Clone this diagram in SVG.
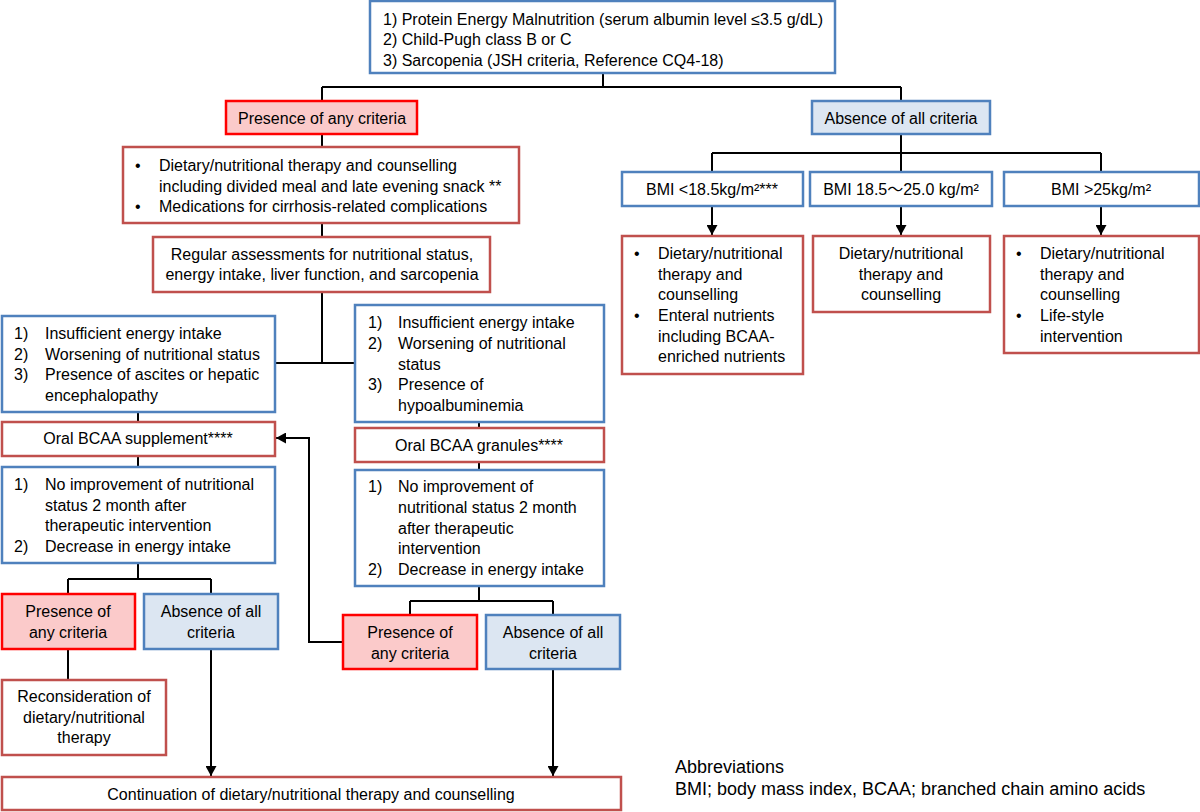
<svg xmlns="http://www.w3.org/2000/svg" width="1200" height="812" viewBox="0 0 1200 812">
<defs>
<style>
.t{font-family:"Liberation Sans","Noto Sans CJK JP",sans-serif;font-size:16px;fill:#000}
.c{text-anchor:middle}
.bl{fill:#fff;stroke:#4f81bd;stroke-width:2.5}
.bf{fill:#dce6f2;stroke:#4f81bd;stroke-width:2.5}
.rd{fill:#fff;stroke:#c0504d;stroke-width:2.5}
.pk{fill:#fbcaca;stroke:#ff0000;stroke-width:2.5}
.ln{fill:none;stroke:#000;stroke-width:2}
.ab{font-family:"Liberation Sans",Arial,sans-serif;font-size:18px;fill:#000}
</style>
<marker id="ar" markerUnits="userSpaceOnUse" markerWidth="10" markerHeight="11" refX="10" refY="5.5" orient="auto" viewBox="0 0 10 11">
<path d="M0,0 L10,5.5 L0,11 z" fill="#000"/>
</marker>
</defs>
<rect width="1200" height="812" fill="#fff"/>

<g id="connectors">
<path class="ln" d="M603,73 V87 M322,87 H901 M322,87 V101 M901,87 V101"/>
<path class="ln" d="M322,134 V147 M322,223 V237 M322,292 V363 M275,363 H355"/>
<path class="ln" d="M901,134 V172 M712,153 H1101 M712,153 V172 M1101,153 V172"/>
<path class="ln" d="M712,206 V235" marker-end="url(#ar)"/>
<path class="ln" d="M901,206 V235" marker-end="url(#ar)"/>
<path class="ln" d="M1101,206 V235" marker-end="url(#ar)"/>
<path class="ln" d="M138,412 V422 M479,422 V428 M138,456 V467 M479,462 V470"/>
<path class="ln" d="M138,563 V579 M68,579 H211 M68,579 V594 M211,579 V594"/>
<path class="ln" d="M68,649 V680"/>
<path class="ln" d="M211,649 V776" marker-end="url(#ar)"/>
<path class="ln" d="M479,586 V601 M410,601 H553 M410,601 V615 M553,601 V615"/>
<path class="ln" d="M553,669 V776" marker-end="url(#ar)"/>
<path class="ln" d="M343,642 H309 V438 H276" marker-end="url(#ar)"/>
</g>

<g id="n-criteria">
<rect class="bl" x="370" y="1" width="465" height="72"/>
<text class="t" x="383" y="25">1) Protein Energy Malnutrition (serum albumin level ≤3.5 g/dL)</text>
<text class="t" x="383" y="45">2) Child-Pugh class B or C</text>
<text class="t" x="383" y="66">3) Sarcopenia (JSH criteria, Reference CQ4-18)</text>
</g>

<g id="n-presence1">
<rect class="pk" x="226" y="101" width="191" height="33"/>
<text class="t c" x="322" y="123.5">Presence of any criteria</text>
</g>

<g id="n-absence1">
<rect class="bf" x="812" y="101" width="178" height="33"/>
<text class="t c" x="901" y="123.5">Absence of all criteria</text>
</g>

<g id="n-therapy">
<rect class="rd" x="123" y="147" width="396" height="76"/>
<text class="t" x="135" y="171">•</text>
<text class="t" x="159" y="171">Dietary/nutritional therapy and counselling</text>
<text class="t" x="159" y="191.5">including divided meal and late evening snack **</text>
<text class="t" x="135" y="212">•</text>
<text class="t" x="159" y="212">Medications for cirrhosis-related complications</text>
</g>

<g id="n-assess">
<rect class="rd" x="153" y="237" width="337" height="55"/>
<text class="t c" x="322" y="259.5">Regular assessments for nutritional status,</text>
<text class="t c" x="322" y="280">energy intake, liver function, and sarcopenia</text>
</g>

<g id="n-bmi1">
<rect class="bl" x="622" y="172" width="181" height="34"/>
<text class="t c" x="712" y="194.5">BMI &lt;18.5kg/m²***</text>
</g>
<g id="n-bmi2">
<rect class="bl" x="810" y="172" width="182" height="34"/>
<text class="t c" x="901" y="194.5">BMI 18.5～25.0 kg/m²</text>
</g>
<g id="n-bmi3">
<rect class="bl" x="1004" y="172" width="195" height="34"/>
<text class="t c" x="1101" y="194.5">BMI &gt;25kg/m²</text>
</g>

<g id="n-r1">
<rect class="rd" x="622" y="236" width="181" height="138"/>
<text class="t" x="634" y="259">•</text>
<text class="t" x="658" y="259">Dietary/nutritional</text>
<text class="t" x="658" y="279.5">therapy and</text>
<text class="t" x="658" y="300">counselling</text>
<text class="t" x="634" y="321">•</text>
<text class="t" x="658" y="321">Enteral nutrients</text>
<text class="t" x="658" y="341.5">including BCAA-</text>
<text class="t" x="658" y="362">enriched nutrients</text>
</g>
<g id="n-r2">
<rect class="rd" x="813" y="236" width="177" height="76"/>
<text class="t c" x="901" y="259">Dietary/nutritional</text>
<text class="t c" x="901" y="279.5">therapy and</text>
<text class="t c" x="901" y="300">counselling</text>
</g>
<g id="n-r3">
<rect class="rd" x="1004" y="236" width="195" height="117"/>
<text class="t" x="1016" y="259">•</text>
<text class="t" x="1040" y="259">Dietary/nutritional</text>
<text class="t" x="1040" y="279.5">therapy and</text>
<text class="t" x="1040" y="300">counselling</text>
<text class="t" x="1016" y="321">•</text>
<text class="t" x="1040" y="321">Life-style</text>
<text class="t" x="1040" y="341.5">intervention</text>
</g>

<g id="n-cond1">
<rect class="bl" x="2" y="316" width="273" height="96"/>
<text class="t" x="14" y="339">1)</text><text class="t" x="45" y="339">Insufficient energy intake</text>
<text class="t" x="14" y="359.5">2)</text><text class="t" x="45" y="359.5">Worsening of nutritional status</text>
<text class="t" x="14" y="380">3)</text><text class="t" x="45" y="380">Presence of ascites or hepatic</text>
<text class="t" x="45" y="401">encephalopathy</text>
</g>

<g id="n-cond2">
<rect class="bl" x="355" y="305" width="249" height="117"/>
<text class="t" x="368" y="328">1)</text><text class="t" x="398" y="328">Insufficient energy intake</text>
<text class="t" x="368" y="349">2)</text><text class="t" x="398" y="349">Worsening of nutritional</text>
<text class="t" x="398" y="369.5">status</text>
<text class="t" x="368" y="390">3)</text><text class="t" x="398" y="390">Presence of</text>
<text class="t" x="398" y="411">hypoalbuminemia</text>
</g>

<g id="n-supp">
<rect class="rd" x="2" y="422" width="273" height="34"/>
<text class="t c" x="138" y="444">Oral BCAA supplement****</text>
</g>
<g id="n-gran">
<rect class="rd" x="355" y="428" width="249" height="34"/>
<text class="t c" x="479" y="450.5">Oral BCAA granules****</text>
</g>

<g id="n-eval1">
<rect class="bl" x="2" y="467" width="273" height="96"/>
<text class="t" x="14" y="490">1)</text><text class="t" x="45" y="490">No improvement of nutritional</text>
<text class="t" x="45" y="510.5">status 2 month after</text>
<text class="t" x="45" y="531">therapeutic intervention</text>
<text class="t" x="14" y="551.5">2)</text><text class="t" x="45" y="551.5">Decrease in energy intake</text>
</g>

<g id="n-eval2">
<rect class="bl" x="355" y="470" width="249" height="116"/>
<text class="t" x="368" y="492">1)</text><text class="t" x="398" y="492">No improvement of</text>
<text class="t" x="398" y="513">nutritional status 2 month</text>
<text class="t" x="398" y="533.5">after therapeutic</text>
<text class="t" x="398" y="554">intervention</text>
<text class="t" x="368" y="574.5">2)</text><text class="t" x="398" y="574.5">Decrease in energy intake</text>
</g>

<g id="n-presence2">
<rect class="pk" x="2" y="594" width="133" height="55"/>
<text class="t c" x="68" y="617">Presence of</text>
<text class="t c" x="68" y="637.5">any criteria</text>
</g>
<g id="n-absence2">
<rect class="bf" x="144" y="594" width="134" height="55"/>
<text class="t c" x="211" y="617">Absence of all</text>
<text class="t c" x="211" y="637.5">criteria</text>
</g>

<g id="n-recon">
<rect class="rd" x="2" y="680" width="164" height="75"/>
<text class="t c" x="84" y="702">Reconsideration of</text>
<text class="t c" x="84" y="722.5">dietary/nutritional</text>
<text class="t c" x="84" y="743">therapy</text>
</g>

<g id="n-presence3">
<rect class="pk" x="343" y="615" width="134" height="54"/>
<text class="t c" x="410" y="638">Presence of</text>
<text class="t c" x="410" y="658.5">any criteria</text>
</g>
<g id="n-absence3">
<rect class="bf" x="486" y="615" width="134" height="54"/>
<text class="t c" x="553" y="638">Absence of all</text>
<text class="t c" x="553" y="658.5">criteria</text>
</g>

<g id="n-continue">
<rect class="rd" x="2" y="777" width="619" height="33"/>
<text class="t c" x="311" y="800">Continuation of dietary/nutritional therapy and counselling</text>
</g>

<g id="abbrev">
<text class="ab" x="675" y="773">Abbreviations</text>
<text class="ab" x="675" y="795">BMI; body mass index, BCAA; branched chain amino acids</text>
</g>
</svg>
